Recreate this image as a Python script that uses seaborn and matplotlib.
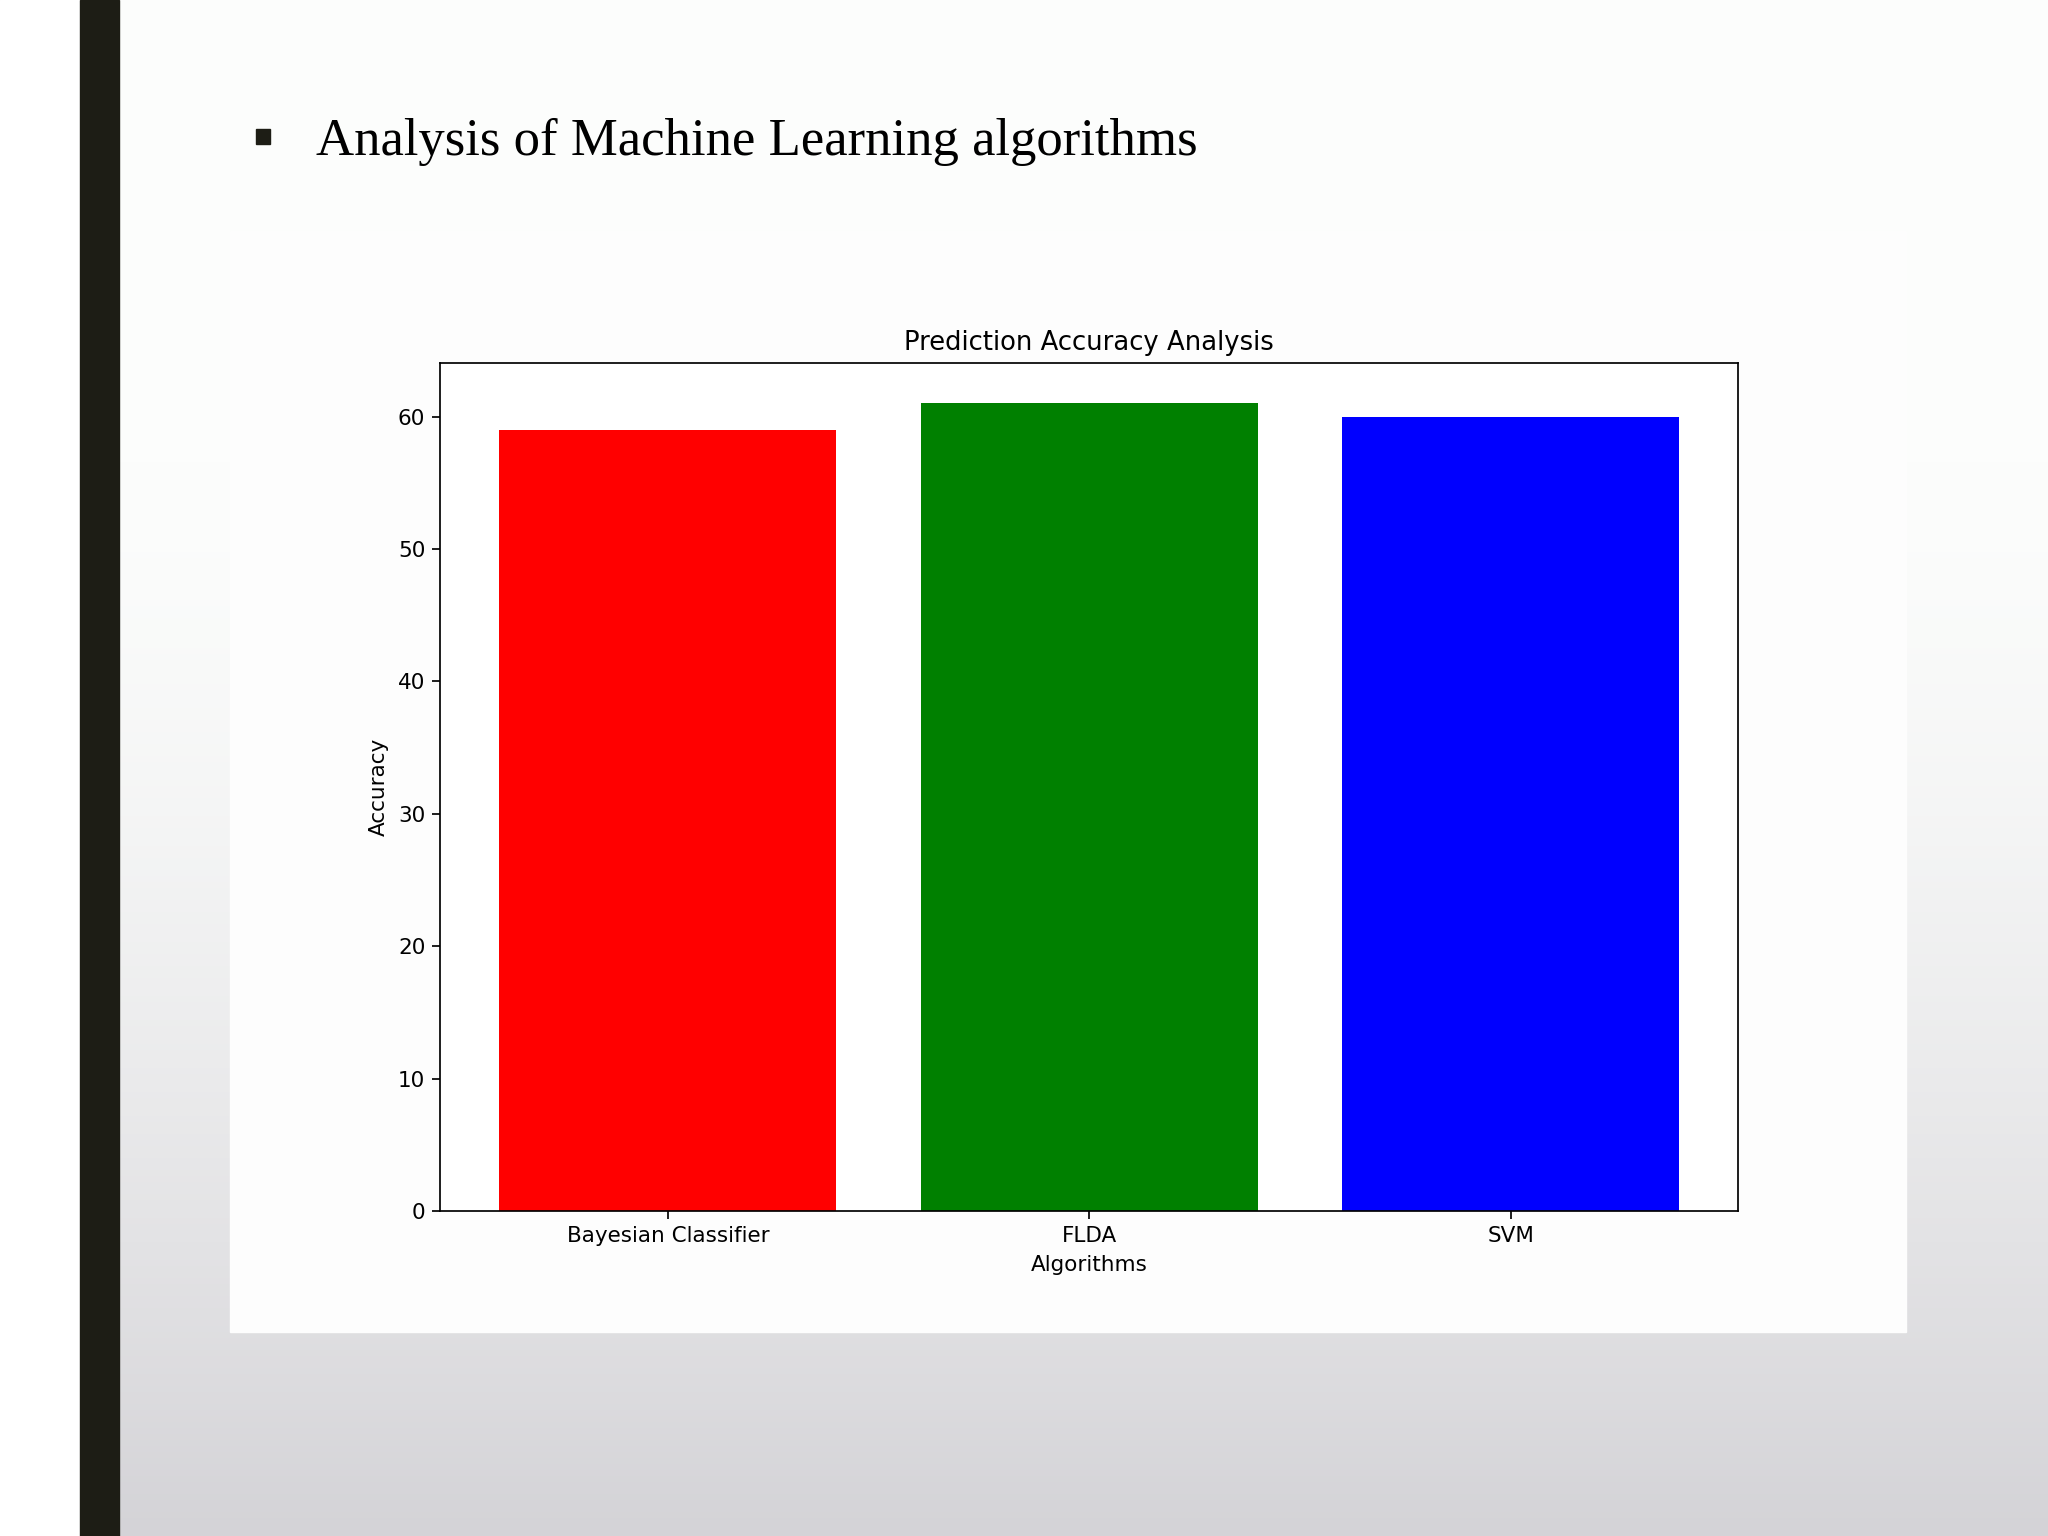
import numpy as np
import pandas as pd
import seaborn as sns
import matplotlib.pyplot as plt
from matplotlib.patches import Rectangle

algorithms = ["Bayesian Classifier", "FLDA", "SVM"]
accuracy = [59, 61, 60]
bar_colors = ["red", "green", "blue"]

slide_title = "Analysis of Machine Learning algorithms"
chart_title = "Prediction Accuracy Analysis"

df = pd.DataFrame({"Algorithms": algorithms, "Accuracy": accuracy})

fig = plt.figure(figsize=(20.48, 15.36), dpi=100)

# slide background: near white at the top fading to grey
bg = fig.add_axes([0, 0, 1, 1], zorder=0)
t = np.linspace(0, 1, 256)
shade = np.clip((t - 0.3) / 0.7, 0, 1) ** 1.5
top = np.array([252, 253, 252]) / 255
bottom = np.array([212, 211, 215]) / 255
grad = top[None, :] * (1 - shade[:, None]) + bottom[None, :] * shade[:, None]
bg.imshow(grad[:, None, :], aspect="auto", extent=[0, 1, 0, 1], origin="upper")
bg.add_patch(Rectangle((0, 0), 80 / 2048, 1, color="white"))
bg.add_patch(Rectangle((80 / 2048, 0), 39 / 2048, 1, color="#1d1d15"))
bg.add_patch(Rectangle((256 / 2048, 1 - 144 / 1536), 14 / 2048, 15 / 1536, color="#1d1d15"))
bg.add_patch(Rectangle((230 / 2048, 1 - 1332 / 1536), 1676 / 2048, 1101 / 1536, color="#fdfdfd"))
bg.text(316 / 2048, 1 - 155 / 1536, slide_title, family="Liberation Serif",
        fontsize=38, color="black", va="baseline", ha="left")
bg.set_xlim(0, 1)
bg.set_ylim(0, 1)
bg.axis("off")

# the chart itself
s = 1.55
ax = fig.add_axes([0.2150, 0.2116, 0.6338, 0.5521], zorder=1)
sns.barplot(data=df, x="Algorithms", y="Accuracy", hue="Algorithms",
            palette=bar_colors, saturation=1, legend=False, width=0.8, ax=ax)
ax.set_xlim(-0.54, 2.54)
ax.set_ylim(0, max(accuracy) * 1.05)
ax.set_title(chart_title, fontsize=12 * s, pad=6 * s)
ax.set_xlabel("Algorithms", fontsize=10 * s, labelpad=4 * s)
ax.set_ylabel("Accuracy", fontsize=10 * s, labelpad=4 * s)
ax.tick_params(labelsize=10 * s, length=3.5 * s, width=0.8 * s, pad=3.5 * s)
for sp in ax.spines.values():
    sp.set_linewidth(0.8 * s)

fig.savefig("out.png", dpi=100)
